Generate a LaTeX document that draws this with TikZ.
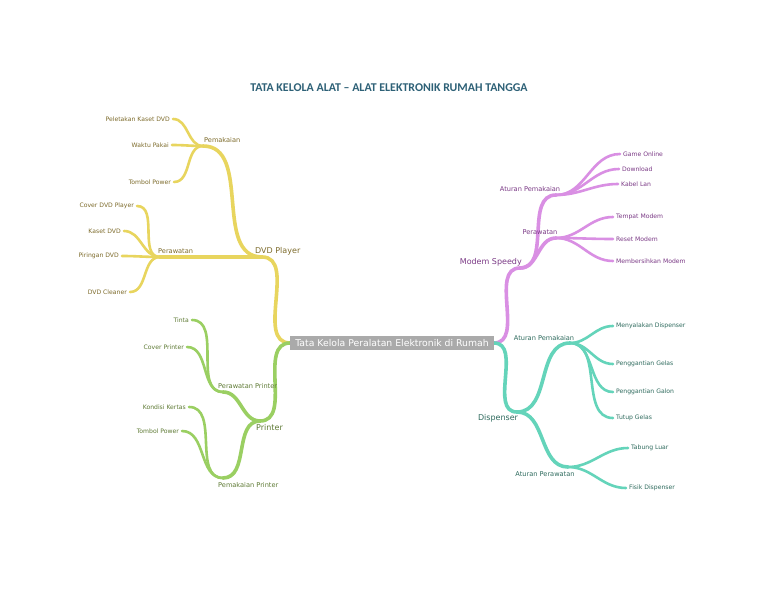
\documentclass[tikz,border=0pt]{standalone}
\usepackage{fontspec}
\setmainfont{DejaVu Sans}
\newfontfamily\titlefont{Carlito}
\usetikzlibrary{backgrounds}
\definecolor{dvdline}{HTML}{E8D55E}
\definecolor{dvdtext}{HTML}{7D6B2B}
\definecolor{prnline}{HTML}{9ACF62}
\definecolor{prntext}{HTML}{5E7A34}
\definecolor{mdmline}{HTML}{D98FE3}
\definecolor{mdmtext}{HTML}{7B3A86}
\definecolor{dspline}{HTML}{64D4BA}
\definecolor{dsptext}{HTML}{2F6B5E}
\definecolor{rootgray}{HTML}{AAAAAA}
\definecolor{titleblue}{HTML}{2E6177}
\begin{document}
\begin{tikzpicture}[x=1pt,y=-1pt,
  leaflabel/.style={font=\fontsize{6.1}{7}\selectfont, inner xsep=3pt, inner ysep=1pt},
  midlabel/.style={font=\fontsize{6.6}{8}\selectfont, inner sep=1pt},
  toplabel/.style={font=\fontsize{8}{9}\selectfont, inner sep=1pt},
  branch/.style={line width=3.6pt, line cap=round},
  twig/.style={line width=2.6pt, line cap=round},
  curve/.style={out=180, in=0}]
\useasboundingbox (0,0) rectangle (768,594);

\node[font=\titlefont\bfseries\fontsize{11.9}{13}\selectfont, text=titleblue] (title) at (389,88) {TATA KELOLA ALAT – ALAT ELEKTRONIK RUMAH TANGGA};

\node[fill=rootgray, text=white, font=\fontsize{9.3}{10}\selectfont, inner xsep=5pt, minimum height=14pt] (root) at (392,343) {Tata Kelola Peralatan Elektronik di Rumah};

% DVD Player
\coordinate (dvd) at (262,257);
\coordinate (dvdpem) at (203,146);
\coordinate (dvdper) at (160,257);
\node[toplabel, text=dvdtext, anchor=south west] (dvdlbl) at (254,256) {DVD Player};
\node[midlabel, text=dvdtext, anchor=south west] (dvdpemlbl) at (203,144) {Pemakaian};
\node[midlabel, text=dvdtext, anchor=south west] (dvdperlbl) at (157,255) {Perawatan};
\node[leaflabel, text=dvdtext, anchor=east] (dvd1) at (173,119) {Peletakan Kaset DVD};
\node[leaflabel, text=dvdtext, anchor=east] (dvd2) at (172,145) {Waktu Pakai};
\node[leaflabel, text=dvdtext, anchor=east] (dvd3) at (174,182) {Tombol Power};
\node[leaflabel, text=dvdtext, anchor=east] (dvd4) at (137,206) {Cover DVD Player};
\node[leaflabel, text=dvdtext, anchor=east] (dvd5) at (124,231) {Kaset DVD};
\node[leaflabel, text=dvdtext, anchor=east] (dvd6) at (122,256) {Piringan DVD};
\node[leaflabel, text=dvdtext, anchor=east] (dvd7) at (130,292) {DVD Cleaner};

% Printer
\coordinate (prn) at (260,421);
\coordinate (prnper) at (223,392);
\coordinate (prnpem) at (223,478);
\node[toplabel, text=prntext, anchor=north west] (prnlbl) at (255,423) {Printer};
\node[midlabel, text=prntext, anchor=south west] (prnperlbl) at (217,390) {Perawatan Printer};
\node[midlabel, text=prntext, anchor=north west] (prnpemlbl) at (217,481) {Pemakaian Printer};
\node[leaflabel, text=prntext, anchor=east] (prn1) at (192,320) {Tinta};
\node[leaflabel, text=prntext, anchor=east] (prn2) at (187,347) {Cover Printer};
\node[leaflabel, text=prntext, anchor=east] (prn3) at (189,407) {Kondisi Kertas};
\node[leaflabel, text=prntext, anchor=east] (prn4) at (182,431) {Tombol Power};

% Modem Speedy
\coordinate (mdm) at (520,268);
\coordinate (mdmpem) at (556,195);
\coordinate (mdmper) at (556,238);
\node[toplabel, text=mdmtext, anchor=south east] (mdmlbl) at (523,267) {Modem Speedy};
\node[midlabel, text=mdmtext, anchor=south] (mdmpemlbl) at (530,193) {Aturan Pemakaian};
\node[midlabel, text=mdmtext, anchor=south] (mdmperlbl) at (540,236) {Perawatan};
\node[leaflabel, text=mdmtext, anchor=west] (mdm1) at (620,154) {Game Online};
\node[leaflabel, text=mdmtext, anchor=west] (mdm2) at (619,169) {Download};
\node[leaflabel, text=mdmtext, anchor=west] (mdm3) at (618,184) {Kabel Lan};
\node[leaflabel, text=mdmtext, anchor=west] (mdm4) at (613,217) {Tempat Modem};
\node[leaflabel, text=mdmtext, anchor=west] (mdm5) at (613,239) {Reset Modem};
\node[leaflabel, text=mdmtext, anchor=west] (mdm6) at (613,261) {Membersihkan Modem};

% Dispenser
\coordinate (dsp) at (517,412);
\coordinate (dsppem) at (570,343);
\coordinate (dspper) at (568,467);
\node[toplabel, text=dsptext, anchor=north] (dsplbl) at (498,413) {Dispenser};
\node[midlabel, text=dsptext, anchor=south] (dsppemlbl) at (544,342) {Aturan Pemakaian};
\node[midlabel, text=dsptext, anchor=north] (dspperlbl) at (545,470) {Aturan Perawatan};
\node[leaflabel, text=dsptext, anchor=west] (dsp1) at (613,326) {Menyalakan Dispenser};
\node[leaflabel, text=dsptext, anchor=west] (dsp2) at (613,364) {Penggantian Gelas};
\node[leaflabel, text=dsptext, anchor=west] (dsp3) at (613,392) {Penggantian Galon};
\node[leaflabel, text=dsptext, anchor=west] (dsp4) at (613,418) {Tutup Gelas};
\node[leaflabel, text=dsptext, anchor=west] (dsp5) at (628,448) {Tabung Luar};
\node[leaflabel, text=dsptext, anchor=west] (dsp6) at (626,488) {Fisik Dispenser};

\begin{scope}[on background layer]
\fill[white] (0,0) rectangle (768,594);

\draw[branch, dvdline] (root.west) to[curve] (dvd);
\draw[branch, dvdline] (dvd) to[curve] (dvdpem);
\draw[branch, dvdline] (dvd) -- (dvdper);
\draw[twig, dvdline] (dvdpem) to[curve] (dvd1);
\draw[twig, dvdline] (dvdpem) to[curve] (dvd2);
\draw[twig, dvdline] (dvdpem) to[curve] (dvd3);
\draw[twig, dvdline] (dvdper) to[curve] (dvd4);
\draw[twig, dvdline] (dvdper) to[curve] (dvd5);
\draw[twig, dvdline] (dvdper) to[curve] (dvd6);
\draw[twig, dvdline] (dvdper) to[curve] (dvd7);

\draw[branch, prnline] (root.west) to[curve] (prn);
\draw[branch, prnline] (prn) to[curve] (prnper);
\draw[branch, prnline] (prn) to[curve] (prnpem);
\draw[twig, prnline] (prnper) to[curve] (prn1);
\draw[twig, prnline] (prnper) to[curve] (prn2);
\draw[twig, prnline] (prnpem) to[curve] (prn3);
\draw[twig, prnline] (prnpem) to[curve] (prn4);

\draw[branch, mdmline] (root.east) to[out=0, in=180] (mdm);
\draw[branch, mdmline] (mdm) to[out=0, in=180] (mdmpem);
\draw[branch, mdmline] (mdm) to[out=0, in=180] (mdmper);
\draw[twig, mdmline] (mdmpem) to[out=0, in=180] (mdm1);
\draw[twig, mdmline] (mdmpem) to[out=0, in=180] (mdm2);
\draw[twig, mdmline] (mdmpem) to[out=0, in=180] (mdm3);
\draw[twig, mdmline] (mdmper) to[out=0, in=180] (mdm4);
\draw[twig, mdmline] (mdmper) to[out=0, in=180] (mdm5);
\draw[twig, mdmline] (mdmper) to[out=0, in=180] (mdm6);

\draw[branch, dspline] (root.east) to[out=0, in=180] (dsp);
\draw[branch, dspline] (dsp) to[out=0, in=180] (dsppem);
\draw[branch, dspline] (dsp) to[out=0, in=180] (dspper);
\draw[twig, dspline] (dsppem) to[out=0, in=180] (dsp1);
\draw[twig, dspline] (dsppem) to[out=0, in=180] (dsp2);
\draw[twig, dspline] (dsppem) to[out=0, in=180] (dsp3);
\draw[twig, dspline] (dsppem) to[out=0, in=180] (dsp4);
\draw[twig, dspline] (dspper) to[out=0, in=180] (dsp5);
\draw[twig, dspline] (dspper) to[out=0, in=180] (dsp6);
\end{scope}

\end{tikzpicture}
\end{document}
